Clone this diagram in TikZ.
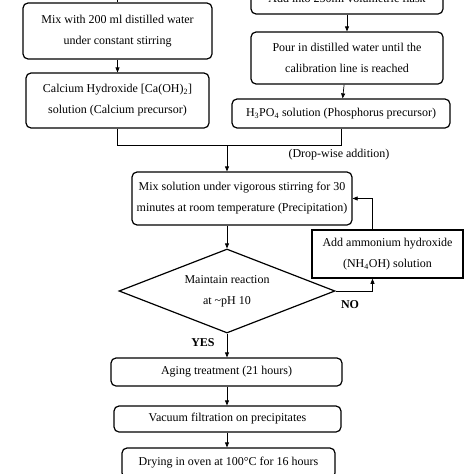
\documentclass[tikz,border=0pt]{standalone}
\usepackage{fontspec}
\setmainfont{Liberation Serif}
\usetikzlibrary{arrows.meta,shapes.geometric,positioning}

\tikzset{
	box/.style={draw, line width=1.2pt, rounded corners=5pt, align=center, inner sep=0pt},
	sqbox/.style={draw, line width=1.5pt, align=center, inner sep=0pt},
	check/.style={draw, line width=1.2pt, diamond, aspect=2.57, align=center, inner sep=0pt},
	link/.style={line width=0.7pt},
	arr/.style={link, -{Triangle[length=5pt,width=4pt]}}
}

\begin{document}
\begin{tikzpicture}[x=1pt, y=-1pt, font=\fontsize{12}{21}\selectfont]
	\clip (0,0) rectangle (474,474);
	% calcium side
	\node[box, minimum width=189pt, minimum height=56pt] (mixwater) at (117.5,31)
		{Mix with 200 ml distilled water\\under constant stirring};
	\node[box, minimum width=183pt, minimum height=55pt] (caoh) at (117.5,100.5)
		{Calcium Hydroxide [Ca(OH)\textsubscript{2}]\\solution (Calcium precursor)};
	% phosphorus side
	\node[box, minimum width=192pt, minimum height=32pt] (flask) at (347,-2)
		{Add into 250ml volumetric flask};
	\node[box, minimum width=192pt, minimum height=52pt] (pour) at (347,58)
		{Pour in distilled water until the\\calibration line is reached};
	\node[box, minimum width=218pt, minimum height=29pt] (hpo) at (341,113.5)
		{H\textsubscript{3}PO\textsubscript{4} solution (Phosphorus precursor)};
	% precipitation
	\node[box, minimum width=220pt, minimum height=53pt] (mixsol) at (242,198.5)
		{Mix solution under vigorous stirring for 30\\minutes at room temperature (Precipitation)};
	\node[sqbox, minimum width=151pt, minimum height=48pt] (ammonia) at (387.5,254)
		{Add ammonium hydroxide\\(NH\textsubscript{4}OH) solution};
	\node[check, minimum width=216pt, minimum height=84pt] (ph) at (227,291)
		{Maintain reaction\\at \textasciitilde pH 10};
	% after treatment
	\node[box, minimum width=231pt, minimum height=28pt] (aging) at (226.5,372)
		{Aging treatment (21 hours)};
	\node[box, minimum width=227pt, minimum height=26pt] (vacuum) at (227.5,419)
		{Vacuum filtration on precipitates};
	\node[box, minimum width=213pt, minimum height=30pt] (drying) at (228.5,463)
		{Drying in oven at 100\textdegree C for 16 hours};
	% labels
	\node (drop) at (339,155) {(Drop-wise addition)};
	\node[font=\fontsize{12}{21}\selectfont\bfseries] (no) at (350,305) {NO};
	\node[font=\fontsize{12}{21}\selectfont\bfseries] (yes) at (203,343) {YES};
	% connectors
	\coordinate (topin) at (117.5,-10);
	\coordinate (join) at (227,145);
	\draw[link] (topin) -- (mixwater.north);
	\draw[arr] (mixwater) -- (caoh);
	\draw[arr] (flask) -- (pour);
	\draw[arr] (pour) -- (hpo);
	\draw[link] (caoh.south) |- (join);
	\draw[link] (hpo.south) |- (join);
	\draw[arr] (join) -- (join |- mixsol.north);
	\draw[arr] (ph |- mixsol.south) -- (ph.north);
	\draw[arr] (ph.east) -| ([xshift=-15pt]ammonia.south);
	\draw[arr] ([xshift=-15pt]ammonia.north) |- (mixsol.east);
	\draw[arr] (ph.south) -- (ph.south |- aging.north);
	\draw[arr] (aging.south -| ph.south) -- (ph.south |- vacuum.north);
	\draw[arr] (vacuum.south -| ph.south) -- (ph.south |- drying.north);
\end{tikzpicture}
\end{document}
